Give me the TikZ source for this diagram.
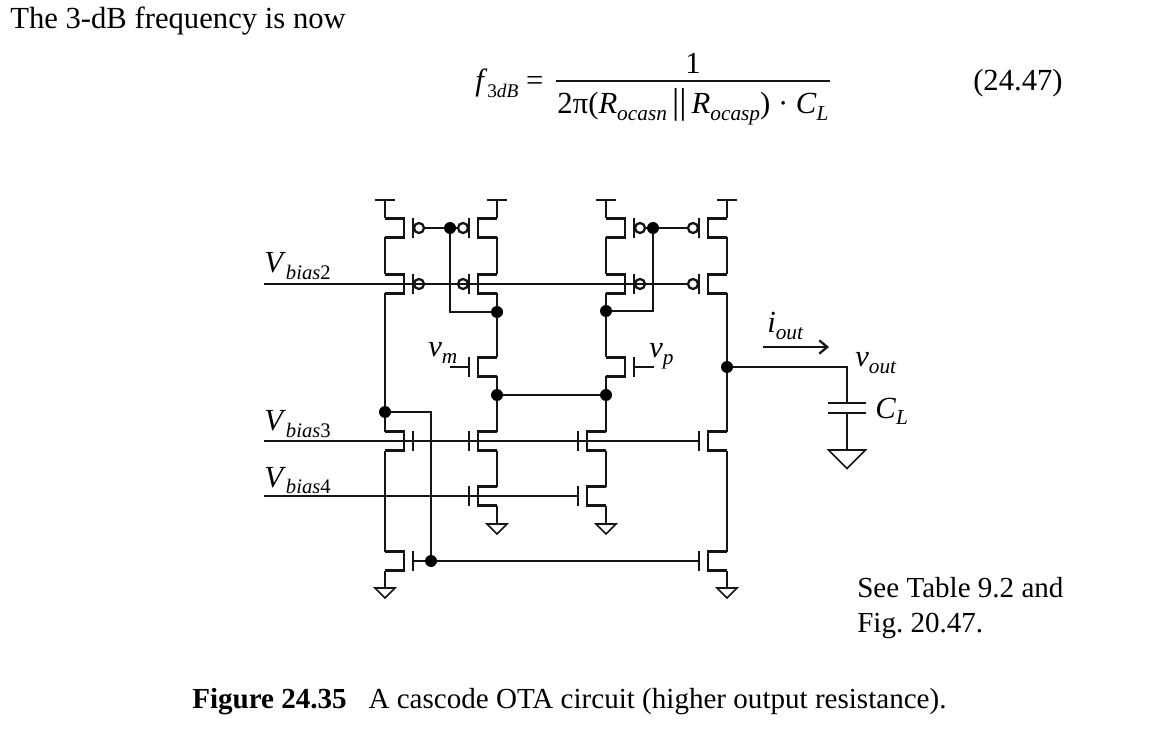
\documentclass[tikz,border=0pt]{standalone}
\usepackage{fontspec}
\setmainfont{Liberation Serif}
\usetikzlibrary{calc,arrows.meta,positioning}
\newcommand{\bigtxt}{\fontsize{23}{35}\selectfont}
\newcommand{\captxt}{\fontsize{21.8}{26}\selectfont\frenchspacing}
\newcommand{\subtxt}[1]{\raisebox{-.22em}{\fontsize{16}{18}\selectfont\itshape #1}}
\newcommand{\subup}[1]{\raisebox{-.22em}{\fontsize{15.5}{18}\selectfont #1}}
\tikzstyle{wire}=[line width=1.1pt,draw=black!92]
\tikzstyle{heavy}=[line width=1.7pt,draw=black!92]
\tikzstyle{junction}=[circle,fill=black,inner sep=0pt,minimum size=9pt]
\tikzstyle{label}=[inner sep=0pt,font=\bigtxt,anchor=base west]
\tikzstyle{gnd}=[line width=1.2pt,draw=black!92,line join=miter]
\tikzset{
  nfet/.pic={
    \draw[heavy] (0,-9.5) -- (19,-9.5) -- (19,9.5) -- (0,9.5);
    \draw[heavy] (28,-10) -- (28,10);
    \coordinate (-d) at (0,-9.5);
    \coordinate (-s) at (0,9.5);
    \coordinate (-g) at (28,0);
  },
  pfet/.pic={
    \draw[heavy] (0,-9.5) -- (19,-9.5) -- (19,9.5) -- (0,9.5);
    \draw[heavy] (28,-10) -- (28,10);
    \draw[heavy] (34,0) circle (5);
    \coordinate (-d) at (0,-9.5);
    \coordinate (-s) at (0,9.5);
    \coordinate (-g) at (39,0);
  },
  vdd/.pic={
    \draw[heavy] (-10,0) -- (10,0);
    \coordinate (-p) at (0,0);
  },
  ground/.pic={
    \draw[gnd] (-#1,0) -- (#1,0) -- (0,#1) -- cycle;
    \coordinate (-p) at (0,0);
  }
}
\begin{document}
\begin{tikzpicture}[x=.75pt,y=-.75pt]
\useasboundingbox (0,0) rectangle (1150,752);
\node[label] (intro) at (10,28.5) {The 3-dB frequency is now};
\node[label] (eqlhs) at (475,91) {\textit{f}\raisebox{-.22em}{\fontsize{14.5}{18}\selectfont 3\textit{dB}} =};
\node[label,anchor=base] (eqnum) at (693,74) {1};
\node[label,anchor=base] (eqden) at (693,114) {2π(\textit{R}\subtxt{ocasn}\,{\fontsize{27}{27}\selectfont||}\,\textit{R}\subtxt{ocasp}) · \textit{C}\subtxt{L}};
\coordinate (barl) at (556,81);
\coordinate (barr) at (830,81);
\draw[wire] (barl) -- (barr);
\node[label] (eqno) at (973,91) {(24.47)};
\node[label,font=\captxt] (figcap) at (192,708) {\textbf{Figure 24.35}\hspace{.75em}A cascode OTA circuit (higher output resistance).};
\node[label,font=\captxt,align=left,anchor=north west] (note) at (857,577) {See Table 9.2 and\\Fig. 20.47.};

\pic (pa) at (385,228) {pfet};
\pic[xscale=-1] (pb) at (497,228) {pfet};
\pic (pc) at (606,228) {pfet};
\pic[xscale=-1] (pd) at (727,228) {pfet};
\pic (pe) at (385,284) {pfet};
\pic[xscale=-1] (pf) at (497,284) {pfet};
\pic (pg) at (606,284) {pfet};
\pic[xscale=-1] (ph) at (727,284) {pfet};

\pic[xscale=-1] (dm) at (497,367) {nfet};
\pic (dp) at (606,367) {nfet};

\pic (na) at (385,441) {nfet};
\pic[xscale=-1] (nb) at (497,441) {nfet};
\pic[xscale=-1] (nc) at (606,441) {nfet};
\pic[xscale=-1] (nd) at (727,441) {nfet};
\pic[xscale=-1] (ne) at (497,496) {nfet};
\pic[xscale=-1] (nf) at (606,496) {nfet};
\pic (ng) at (385,561) {nfet};
\pic[xscale=-1] (nh) at (727,561) {nfet};

\pic (va) at (385,200) {vdd};
\pic (vb) at (497,200) {vdd};
\pic (vc) at (606,200) {vdd};
\pic (vd) at (727,200) {vdd};

\pic (ga) at (385,588) {ground=10};
\pic (gb) at (497,524) {ground=10};
\pic (gc) at (606,524) {ground=10};
\pic (gd) at (727,588) {ground=10};
\pic (ge) at (847,450) {ground=18.5};

\node[junction] (jgl) at (450,228) {};
\node[junction] (jgr) at (653,228) {};
\node[junction] (jtl) at (497,312) {};
\node[junction] (jtr) at (606,311) {};
\node[junction] (jsl) at (497,395) {};
\node[junction] (jsr) at (606,395) {};
\node[junction] (jout) at (727,367) {};
\node[junction] (jb) at (385,412) {};
\node[junction] (jn) at (431,561) {};

\coordinate (lb2) at (264,284);
\coordinate (lb3) at (264,441);
\coordinate (lb4) at (264,496);
\coordinate (vmg) at (450,367);
\coordinate (vpg) at (654,367);
\coordinate (ocorner) at (847,367);
\coordinate (ctop) at (847,403);
\coordinate (cbot) at (847,413);
\coordinate (cl) at (828,403);
\coordinate (cr) at (866,403);
\coordinate (dl) at (828,413);
\coordinate (dr) at (866,413);
\coordinate (arl) at (763,347);
\coordinate (arr) at (829,347);

\foreach \a/\b in {va-p/pa-d,vb-p/pb-d,vc-p/pc-d,vd-p/pd-d,
  pa-s/pe-d,pb-s/pf-d,pc-s/pg-d,pd-s/ph-d,
  pe-s/jb,pf-s/jtl,pg-s/jtr,ph-s/jout,
  jtl/dm-d,jtr/dp-d,dm-s/jsl,dp-s/jsr,
  jsl/nb-d,jsr/nc-d,jout/nd-d,jb/na-d,
  na-s/ng-d,nb-s/ne-d,nc-s/nf-d,nd-s/nh-d,
  ng-s/ga-p,ne-s/gb-p,nf-s/gc-p,nh-s/gd-p}
  \draw[heavy] (\a) -- (\b);

\draw[wire] (pa-g) -- (jgl) -- (pb-g);
\draw[wire] (pc-g) -- (jgr) -- (pd-g);
\draw[wire] (jgl) |- (jtl);
\draw[wire] (jgr) |- (jtr);
\draw[heavy] (lb2) -- (pg-g);
\draw[wire] (pg-g) -- (ph-g);
\draw[wire] (vmg) -- (dm-g);
\draw[wire] (vpg) -- (dp-g);
\draw[wire] (jsl) -- (jsr);
\draw[wire] (lb3) -- (nd-g);
\draw[heavy] (lb4) -- (nf-g);
\draw[heavy] (jb) -| (jn);
\draw[wire] (ng-g) -- (jn) -- (nh-g);
\draw[heavy] (jout) -- (ocorner) -- (ctop);
\draw[heavy] (cl) -- (cr);
\draw[heavy] (dl) -- (dr);
\draw[heavy] (cbot) -- (ge-p);
\draw[heavy,-{Straight Barb[length=6pt,width=10pt]}] (arl) -- (arr);

\node[label] (nvb2) at (264,273) {\textit{V}\subup{\textit{bias}2}};
\node[label] (nvb3) at (264,431) {\textit{V}\subup{\textit{bias}3}};
\node[label] (nvb4) at (264,487) {\textit{V}\subup{\textit{bias}4}};
\node[label] (nvm) at (428,357) {\textit{v}\subtxt{m}};
\node[label] (nvp) at (649,358) {\textit{v}\subtxt{p}};
\node[label] (niout) at (767,333) {\textit{i}\subtxt{out}};
\node[label] (nvout) at (855,367) {\textit{v}\subtxt{out}};
\node[label] (ncl) at (875,418) {\textit{C}\subtxt{L}};
\end{tikzpicture}
\end{document}
